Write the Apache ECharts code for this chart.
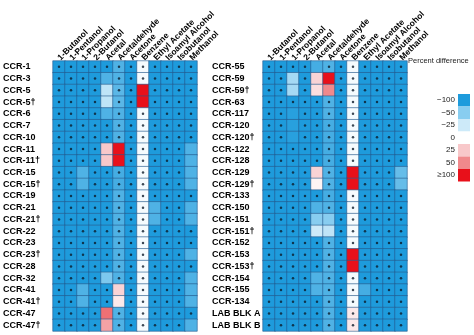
<!DOCTYPE html>
<html>
<head>
<meta charset="utf-8">
<script src="https://cdn.jsdelivr.net/npm/echarts@6/dist/echarts.min.js"></script>
<style>
html,body{margin:0;padding:0;background:#fff;}
#chart{width:474px;height:335px;}
</style>
</head>
<body>
<div id="chart"></div>
<script>
// ---- data ----
const columns = ['1-Butanol','1-Pentanol','1-Propanol','2-Butanol','Acetal','Acetaldehyde','Acetone','Benzene','Ethyl Acetate','Isoamyl Alcohol','Isobutanol','Methanol'];
const leftRows = ['CCR-1','CCR-3','CCR-5','CCR-5†','CCR-6','CCR-7','CCR-10','CCR-11','CCR-11†','CCR-15','CCR-15†','CCR-19','CCR-21','CCR-21†','CCR-22','CCR-23','CCR-23†','CCR-28','CCR-32','CCR-41','CCR-41†','CCR-47','CCR-47†'];
const rightRows = ['CCR-55','CCR-59','CCR-59†','CCR-63','CCR-117','CCR-120','CCR-120†','CCR-122','CCR-128','CCR-129','CCR-129†','CCR-133','CCR-150','CCR-151','CCR-151†','CCR-152','CCR-153','CCR-153†','CCR-154','CCR-155','CCR-134','LAB BLK A','LAB BLK B'];
// percent difference, one row per sample, columns in the order above
const leftValues = [
  [-100,-100,-100,-100,-100,-75,-100,-5,-100,-100,-100,-100],
  [-100,-100,-100,-100,-75,-75,-100,-5,-100,-100,-100,-100],
  [-100,-100,-100,-100,-30,-70,-100,100,-100,-100,-100,-100],
  [-100,-100,-100,-100,-30,-70,-100,100,-100,-100,-100,-100],
  [-100,-100,-100,-100,-75,-75,-100,-5,-100,-100,-100,-100],
  [-100,-100,-100,-100,-100,-75,-100,-5,-100,-100,-100,-100],
  [-100,-100,-100,-100,-100,-75,-100,-5,-100,-100,-100,-100],
  [-100,-100,-100,-100,25,100,-100,-5,-100,-100,-100,-75],
  [-100,-100,-100,-100,25,100,-100,-5,-100,-100,-100,-75],
  [-100,-100,-75,-100,-100,-80,-100,-5,-100,-100,-100,-75],
  [-100,-100,-75,-100,-100,-80,-100,-5,-100,-100,-100,-75],
  [-100,-100,-100,-100,-100,-75,-100,-5,-100,-100,-100,-100],
  [-100,-100,-100,-100,-100,-75,-100,-5,-75,-100,-100,-75],
  [-100,-100,-100,-100,-100,-75,-100,-5,-75,-100,-100,-75],
  [-100,-100,-100,-100,-100,-75,-100,-5,-100,-100,-100,-100],
  [-100,-100,-100,-100,-100,-75,-100,-5,-100,-100,-100,-100],
  [-100,-100,-100,-100,-100,-75,-100,-5,-100,-100,-100,-75],
  [-100,-100,-100,-100,-100,-75,-100,-5,-100,-100,-100,-100],
  [-100,-100,-100,-100,-55,-75,-100,-5,-100,-100,-100,-75],
  [-100,-100,-75,-100,-100,20,-100,-5,-100,-100,-100,-75],
  [-100,-100,-75,-100,-100,10,-100,-5,-100,-100,-100,-75],
  [-100,-100,-100,-100,60,-75,-100,-5,-100,-100,-100,-100],
  [-100,-100,-100,-100,40,-75,-100,-5,-100,-100,-100,-75]
];
const rightValues = [
  [-100,-100,-100,-100,-80,-75,-100,-5,-100,-100,-100,-100],
  [-100,-100,-40,-100,20,100,-100,-5,-100,-100,-100,-100],
  [-100,-100,-40,-100,15,50,-100,-5,-100,-100,-100,-100],
  [-100,-100,-100,-100,-100,-75,-100,-5,-100,-100,-100,-100],
  [-100,-100,-95,-100,-100,-75,-100,-5,-100,-100,-100,-100],
  [-100,-100,-95,-100,-100,-80,-100,-5,-100,-100,-100,-100],
  [-100,-100,-95,-100,-100,-80,-100,-5,-100,-100,-100,-100],
  [-100,-100,-100,-100,-100,-80,-100,-5,-100,-100,-100,-100],
  [-100,-100,-100,-100,-100,-80,-100,-5,-100,-100,-100,-100],
  [-100,-100,-100,-100,20,-75,-100,100,-100,-100,-100,-65],
  [-100,-100,-100,-100,5,-75,-100,100,-100,-100,-100,-65],
  [-100,-100,-100,-100,-100,-80,-100,-5,-100,-100,-100,-100],
  [-100,-100,-100,-100,-75,-75,-100,-5,-100,-100,-100,-100],
  [-100,-100,-100,-100,-50,-50,-100,-5,-100,-100,-100,-100],
  [-100,-100,-100,-100,-25,-30,-100,-5,-100,-100,-100,-100],
  [-100,-100,-100,-100,-100,-75,-100,-5,-100,-100,-100,-100],
  [-100,-100,-100,-100,-100,-75,-100,100,-100,-100,-100,-100],
  [-100,-100,-100,-100,-100,-75,-100,100,-100,-100,-100,-100],
  [-100,-100,-100,-100,-75,-75,-100,-5,-100,-100,-100,-100],
  [-100,-100,-100,-100,-75,-75,-100,-5,-80,-100,-100,-100],
  [-100,-100,-100,-100,-100,-75,-100,-5,-100,-100,-100,-100],
  [-100,-100,-100,-100,-100,-75,-100,10,-100,-100,-100,-100],
  [-100,-100,-100,-100,-100,-75,-100,10,-100,-100,-100,-100]
];
// dot marker present (1) or not (0) per cell
const leftDots = ['111111111111','111101111111','111101101111','111101101111','111101111111','111111111111','111111111111','111100111110','111100111110','110111111110','110111111110','111111111111','111111110110','111111110110','111111111111','111111111111','111111111110','111111111111','111101111110','110110111110','110110111110','111101111111','111101111110'];
const rightDots = ['111101111111','110100111111','110100111111','111111111111','110111111111','110111111111','110111111111','111111111111','111111111111','111101101110','111101101110','111111111111','111101111111','111100111111','111100111111','111111111111','111111101111','111111101111','111101111111','111101110111','111111111111','111111111111','111111111111'];
const legendLabels = ['\u2212100','\u221250','\u221225','0','25','50','\u2265100'];
const legendValues = [-100,-50,-25,0,25,50,100];

// ---- styling ----
const legendColors = ['#1e9bdc','#88cdf0','#cdeaf9','#ffffff','#f8c8ca','#f0898c','#e8101a'];
const scaleColors = ['#1e9bdc','#4fb2e5','#88cdf0','#cdeaf9','#ffffff','#f8c8ca','#f0898c','#ec4a50','#e8101a'];
const FONT = 'Arial, "Liberation Sans", sans-serif';

function heatData(values){
  const out=[];
  values.forEach((row,r)=>row.forEach((v,c)=>out.push([c,r,v])));
  return out;
}
function dotData(dots){
  const out=[];
  dots.forEach((s,r)=>s.split('').forEach((d,c)=>{ if(d==='1') out.push([c,r]); }));
  return out;
}

const gridTop = 61, gridH = 270, gridW = 144;
function xAx(i){
  return {type:'category',gridIndex:i,data:columns,position:'top',
    axisLine:{show:false},axisTick:{show:false},splitLine:{show:false},
    axisLabel:{interval:0,rotate:-45,margin:2,align:'left',verticalAlign:'middle',fontSize:8.5,fontWeight:'bold',color:'#000',fontFamily:FONT}};
}
function yAx(i,rows,margin){
  return {type:'category',gridIndex:i,data:rows,inverse:true,
    axisLine:{show:false},axisTick:{show:false},splitLine:{show:false},
    axisLabel:{interval:0,align:'left',margin:margin,fontSize:9,fontWeight:'bold',color:'#000',fontFamily:FONT}};
}

const chart = echarts.init(document.getElementById('chart'),null,{renderer:'canvas'});
chart.setOption({
  animation:false,
  backgroundColor:'#fff',
  title:{text:'Percent difference',left:408,top:57,padding:0,textStyle:{fontSize:7.5,fontWeight:'normal',color:'#222',fontFamily:FONT}},
  grid:[
    {left:53,top:gridTop,width:gridW,height:gridH},
    {left:263,top:gridTop,width:gridW,height:gridH}
  ],
  xAxis:[xAx(0),xAx(1)],
  yAxis:[yAx(0,leftRows,50),yAx(1,rightRows,51)],
  visualMap:[
    {type:'continuous',show:false,min:-100,max:100,seriesIndex:[0,1],inRange:{color:scaleColors}},
    {type:'piecewise',show:true,seriesIndex:[4],orient:'vertical',align:'right',inverse:true,
     right:4,top:94,padding:0,itemWidth:12,itemHeight:12.5,itemGap:0,itemSymbol:'rect',textGap:3,
     selectedMode:false,
     textStyle:{fontSize:8,color:'#222',fontFamily:FONT},
     pieces:legendValues.map((v,i)=>({value:v,label:legendLabels[i],color:legendColors[i]}))}
  ],
  series:[
    {type:'heatmap',xAxisIndex:0,yAxisIndex:0,data:heatData(leftValues),
     itemStyle:{borderColor:'#25598c',borderWidth:0.6},emphasis:{disabled:true}},
    {type:'heatmap',xAxisIndex:1,yAxisIndex:1,data:heatData(rightValues),
     itemStyle:{borderColor:'#25598c',borderWidth:0.6},emphasis:{disabled:true}},
    {type:'scatter',xAxisIndex:0,yAxisIndex:0,data:dotData(leftDots),symbolSize:2.5,
     itemStyle:{color:'#0d1b2a'},silent:true},
    {type:'scatter',xAxisIndex:1,yAxisIndex:1,data:dotData(rightDots),symbolSize:2.5,
     itemStyle:{color:'#0d1b2a'},silent:true},
    {type:'scatter',xAxisIndex:0,yAxisIndex:0,data:[],silent:true}
  ]
});
</script>
</body>
</html>
